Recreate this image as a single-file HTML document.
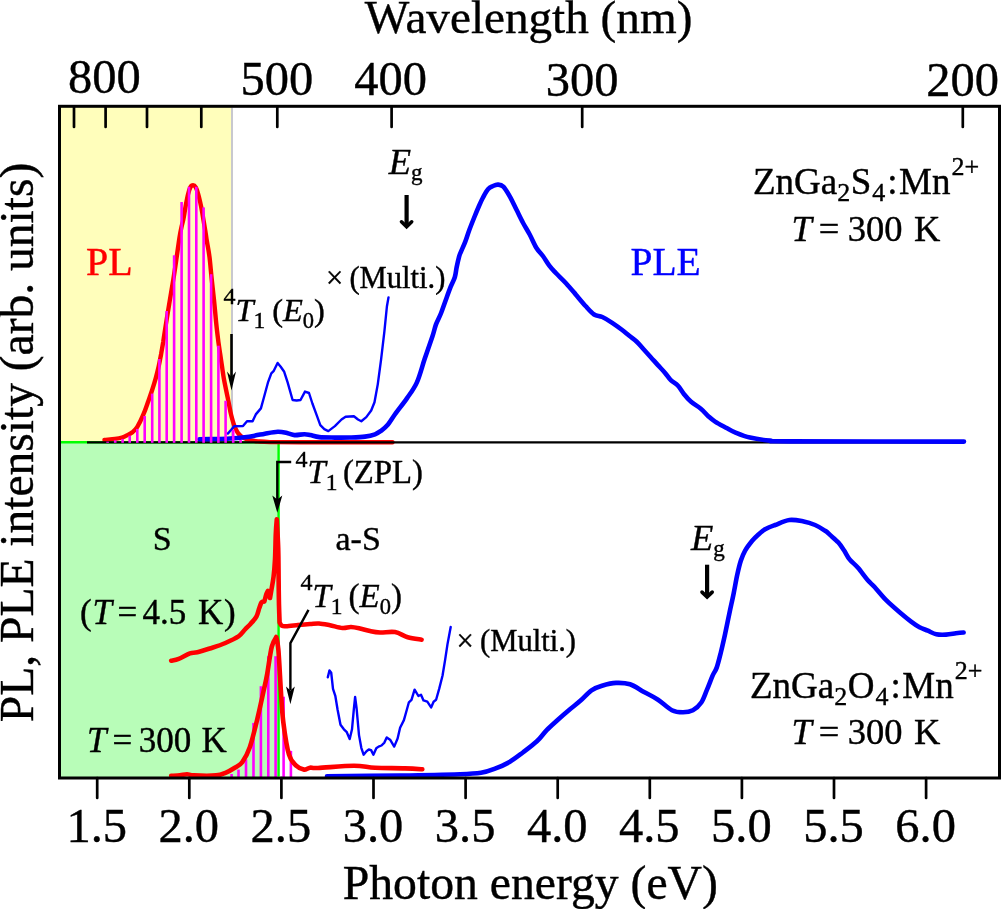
<!DOCTYPE html><html><head><meta charset="utf-8"><title>PL PLE spectra</title><style>html,body{margin:0;padding:0;background:#fff;overflow:hidden;}svg{display:block;}text{font-family:"Liberation Serif","Times New Roman",serif;fill:#000;stroke:#000;stroke-width:0.4px;}.i{font-style:italic;}</style></head><body>
<svg width="1001" height="909" viewBox="0 0 1001 909">
<rect x="60" y="106" width="172" height="336" fill="#FFFEBB"/>
<line x1="232" y1="107.5" x2="232" y2="441" stroke="#C8C8CE" stroke-width="2"/>
<rect x="60" y="442" width="219" height="335" fill="#B8FDB8"/>
<line x1="278.6" y1="442" x2="278.6" y2="776.5" stroke="#00FF00" stroke-width="2.4"/>
<line x1="60" y1="442.2" x2="278" y2="442.2" stroke="#00FF00" stroke-width="2.5"/>
<path d="M104.5,439.9 C106.2,439.7 112.1,439.3 115.0,438.9 C117.9,438.5 120.0,438.1 122.0,437.5 C124.0,436.9 125.3,436.2 127.0,435.3 C128.7,434.4 130.7,433.6 132.4,432.2 C134.1,430.8 135.5,429.8 137.3,426.9 C139.1,424.0 141.6,418.8 143.3,414.7 C145.1,410.6 146.4,406.6 147.8,402.6 C149.2,398.6 150.7,394.5 152.0,390.5 C153.3,386.5 154.6,382.4 155.7,378.4 C156.8,374.4 157.8,370.3 158.7,366.3 C159.6,362.3 160.3,358.2 161.1,354.2 C161.8,350.2 162.5,346.1 163.2,342.1 C163.8,338.1 164.4,333.7 165.0,330.0 C165.6,326.3 165.8,324.8 166.6,320.0 C167.4,315.2 168.6,307.8 169.7,301.0 C170.8,294.2 172.2,286.3 173.4,279.0 C174.6,271.7 175.7,263.8 176.7,257.0 C177.7,250.2 178.6,243.0 179.4,238.0 C180.2,233.0 180.8,230.1 181.5,227.0 C182.2,223.9 182.6,223.0 183.3,219.6 C184.0,216.2 184.8,210.6 185.6,206.4 C186.4,202.2 187.2,197.7 188.0,194.5 C188.8,191.3 189.5,188.9 190.3,187.4 C191.1,185.9 192.1,185.3 193.1,185.3 C194.0,185.3 194.9,185.9 195.8,187.4 C196.7,188.9 197.4,191.3 198.3,194.5 C199.2,197.7 200.2,202.2 201.1,206.4 C201.9,210.6 202.7,215.2 203.4,219.6 C204.2,224.0 205.0,229.1 205.6,232.8 C206.2,236.5 206.3,238.0 207.0,242.0 C207.7,246.0 208.7,250.8 209.5,257.0 C210.3,263.2 210.9,271.7 211.7,279.0 C212.5,286.3 213.3,293.5 214.1,301.0 C214.9,308.5 215.6,317.1 216.3,324.0 C217.0,330.9 217.8,337.1 218.4,342.1 C219.1,347.1 219.6,350.2 220.2,354.2 C220.8,358.2 221.4,362.3 222.0,366.3 C222.6,370.3 223.1,374.4 223.8,378.4 C224.5,382.4 225.4,386.5 226.2,390.5 C227.0,394.5 227.9,398.6 228.7,402.6 C229.5,406.6 230.1,410.8 231.1,414.7 C232.1,418.6 233.3,423.0 234.4,426.0 C235.5,429.0 236.5,430.8 237.6,432.5 C238.7,434.2 239.8,435.2 241.0,436.2 C242.2,437.2 243.5,437.9 245.0,438.6 C246.5,439.3 247.8,439.7 250.0,440.2 C252.2,440.7 254.7,441.1 258.0,441.4 C261.3,441.7 263.0,442.0 270.0,442.1 C277.0,442.2 279.6,442.2 300.0,442.2 C320.4,442.2 377.1,442.2 392.5,442.2" fill="none" stroke="#FF0000" stroke-width="4.4" stroke-linejoin="round" stroke-linecap="round"/>
<line x1="87" y1="442.4" x2="964" y2="442.4" stroke="#000" stroke-width="2.2"/>
<path d="M199.4,439.2 C202.0,439.2 209.9,439.1 215.0,439.0 C220.1,438.9 225.1,438.8 230.0,438.5 C234.9,438.2 240.4,437.7 244.6,437.2 C248.8,436.7 251.6,436.2 255.0,435.6 C258.4,435.0 261.1,434.4 264.9,433.7 C268.7,433.0 274.0,431.8 277.8,431.7 C281.6,431.6 284.9,432.6 287.7,433.2 C290.5,433.8 291.8,434.9 294.6,435.1 C297.4,435.3 301.9,434.2 304.5,434.2 C307.1,434.2 307.9,434.6 310.4,435.1 C312.9,435.6 315.3,436.7 319.4,437.1 C323.5,437.5 329.9,437.5 335.0,437.6 C340.1,437.7 344.8,437.7 349.8,437.5 C354.8,437.3 360.8,437.1 365.0,436.6 C369.2,436.1 372.3,435.3 375.0,434.3 C377.7,433.3 378.9,432.4 381.1,430.8 C383.3,429.2 385.7,427.2 388.0,424.5 C390.3,421.8 391.9,418.7 395.0,414.3 C398.1,409.9 403.3,403.7 406.9,398.4 C410.5,393.1 413.8,389.2 416.8,382.6 C419.8,376.0 422.1,366.5 424.7,358.8 C427.3,351.1 430.5,342.2 432.4,336.5 C434.3,330.8 434.6,328.2 436.0,324.4 C437.4,320.6 439.3,317.5 440.9,313.5 C442.5,309.5 444.1,304.6 445.7,300.2 C447.3,295.8 449.1,290.7 450.6,286.9 C452.1,283.1 453.8,280.4 454.8,277.2 C455.8,274.0 455.9,270.9 456.6,267.5 C457.3,264.1 458.4,259.2 459.1,256.6 C459.8,254.0 459.9,254.2 460.9,251.8 C461.9,249.4 463.7,245.7 465.1,242.1 C466.5,238.5 467.8,234.0 469.3,230.0 C470.8,226.0 472.4,222.0 474.0,218.0 C475.6,214.0 477.5,209.4 479.0,206.0 C480.5,202.6 481.5,200.3 483.0,197.5 C484.5,194.7 486.3,191.1 488.0,189.2 C489.7,187.3 491.3,186.8 493.0,186.0 C494.7,185.2 496.3,184.5 498.0,184.6 C499.7,184.7 501.3,184.7 503.3,186.7 C505.3,188.7 507.7,192.8 509.9,196.6 C512.1,200.4 514.3,205.4 516.5,209.8 C518.7,214.2 520.9,218.9 523.1,223.0 C525.3,227.1 527.5,230.4 529.7,234.5 C531.9,238.6 534.1,244.1 536.3,247.7 C538.5,251.3 540.7,253.0 542.9,256.0 C545.1,259.0 547.3,263.0 549.5,265.9 C551.7,268.8 553.4,270.4 556.1,273.3 C558.9,276.2 562.7,279.6 566.0,283.2 C569.3,286.8 572.6,290.8 575.9,294.7 C579.2,298.6 582.8,303.0 585.8,306.3 C588.8,309.6 591.4,312.7 594.1,314.5 C596.9,316.3 599.3,315.6 602.3,317.0 C605.3,318.4 608.9,320.6 612.2,322.8 C615.5,325.0 619.4,327.8 622.2,330.0 C625.1,332.2 626.9,333.9 629.3,335.8 C631.7,337.7 634.1,339.2 636.5,341.5 C638.9,343.8 641.2,346.7 643.6,349.3 C646.0,351.9 648.4,354.6 650.8,357.2 C653.2,359.8 655.5,362.5 657.9,365.1 C660.3,367.7 663.0,370.4 665.1,372.9 C667.2,375.4 668.6,378.0 670.8,380.1 C672.9,382.2 675.9,383.5 678.0,385.8 C680.1,388.1 681.6,391.1 683.7,393.7 C685.8,396.3 687.9,399.1 690.8,401.6 C693.6,404.1 697.9,406.3 700.8,408.7 C703.7,411.1 705.6,413.8 708.0,415.9 C710.4,418.0 712.0,419.6 715.1,421.6 C718.2,423.6 723.3,426.2 726.6,428.0 C729.9,429.8 731.1,430.7 735.0,432.3 C738.9,433.9 744.2,436.2 750.0,437.6 C755.8,439.0 763.3,440.0 770.0,440.6 C776.7,441.2 757.7,441.2 790.0,441.4 C822.3,441.6 935.0,441.6 964.0,441.6" fill="none" stroke="#0000FF" stroke-width="4.6" stroke-linejoin="round" stroke-linecap="round"/>
<path d="M227.8,433.6 L231.0,430.0 L234.2,426.2 L243.0,426.0 L247.0,421.2 L252.6,421.2 L255.8,414.4 L260.9,408.4 L263.9,397.5 L267.9,382.7 L271.3,373.3 L273.8,370.8 L277.6,362.9 L280.7,366.8 L284.2,371.8 L287.7,382.7 L292.6,400.0 L296.6,400.5 L300.5,400.0 L305.0,391.6 L309.0,393.0 L312.4,403.5 L316.4,414.4 L320.3,425.2 L324.3,429.2 L328.3,431.1 L334.9,426.1 L341.5,419.5 L345.6,416.7 L353.9,416.2 L358.0,419.5 L361.3,421.2 L366.3,417.1 L371.2,410.5 L374.5,402.2 L377.8,384.1 L381.1,359.3 L384.4,331.3 L386.9,306.5 L388.5,297.4" fill="none" stroke="#0000FF" stroke-width="2.4" stroke-linejoin="round" stroke-linecap="round"/>
<line x1="107.6" y1="442.8" x2="107.6" y2="441.7" stroke="#FF00FF" stroke-width="2.6"/>
<line x1="115.2" y1="442.8" x2="115.2" y2="440.3" stroke="#FF00FF" stroke-width="2.6"/>
<line x1="122.6" y1="442.8" x2="122.6" y2="438.9" stroke="#FF00FF" stroke-width="2.6"/>
<line x1="129.7" y1="442.8" x2="129.7" y2="435.7" stroke="#FF00FF" stroke-width="2.6"/>
<line x1="137.3" y1="442.8" x2="137.3" y2="428.9" stroke="#FF00FF" stroke-width="2.6"/>
<line x1="144.7" y1="442.8" x2="144.7" y2="416.0" stroke="#FF00FF" stroke-width="2.6"/>
<line x1="152.2" y1="442.8" x2="152.2" y2="393.6" stroke="#FF00FF" stroke-width="2.6"/>
<line x1="159.4" y1="442.8" x2="159.4" y2="359.0" stroke="#FF00FF" stroke-width="2.6"/>
<line x1="166.7" y1="442.8" x2="166.7" y2="311.0" stroke="#FF00FF" stroke-width="2.6"/>
<line x1="174.1" y1="442.8" x2="174.1" y2="255.3" stroke="#FF00FF" stroke-width="2.6"/>
<line x1="181.6" y1="442.8" x2="181.6" y2="202.0" stroke="#FF00FF" stroke-width="2.6"/>
<line x1="189.0" y1="442.8" x2="189.0" y2="186.8" stroke="#FF00FF" stroke-width="2.6"/>
<line x1="196.3" y1="442.8" x2="196.3" y2="186.8" stroke="#FF00FF" stroke-width="2.6"/>
<line x1="203.6" y1="442.8" x2="203.6" y2="207.4" stroke="#FF00FF" stroke-width="2.6"/>
<line x1="211.1" y1="442.8" x2="211.1" y2="274.2" stroke="#FF00FF" stroke-width="2.6"/>
<line x1="218.4" y1="442.8" x2="218.4" y2="345.7" stroke="#FF00FF" stroke-width="2.6"/>
<line x1="225.6" y1="442.8" x2="225.6" y2="400.7" stroke="#FF00FF" stroke-width="2.6"/>
<line x1="233.2" y1="442.8" x2="233.2" y2="430.0" stroke="#FF00FF" stroke-width="2.6"/>
<line x1="240.6" y1="442.8" x2="240.6" y2="440.0" stroke="#FF00FF" stroke-width="2.6"/>
<line x1="231.6" y1="777" x2="231.6" y2="774.0" stroke="#FF00FF" stroke-width="2.6"/>
<line x1="238.5" y1="777" x2="238.5" y2="769.6" stroke="#FF00FF" stroke-width="2.6"/>
<line x1="246.0" y1="777" x2="246.0" y2="759.3" stroke="#FF00FF" stroke-width="2.6"/>
<line x1="253.5" y1="777" x2="253.5" y2="722.9" stroke="#FF00FF" stroke-width="2.6"/>
<line x1="260.9" y1="777" x2="260.9" y2="686.2" stroke="#FF00FF" stroke-width="2.6"/>
<line x1="268.3" y1="777" x2="268.3" y2="656.2" stroke="#FF00FF" stroke-width="2.6"/>
<line x1="275.6" y1="777" x2="275.6" y2="656.2" stroke="#FF00FF" stroke-width="2.6"/>
<line x1="283.6" y1="777" x2="283.6" y2="696.7" stroke="#FF00FF" stroke-width="2.6"/>
<line x1="290.9" y1="777" x2="290.9" y2="750.9" stroke="#FF00FF" stroke-width="2.6"/>
<path d="M327.0,776.2 C339.2,776.1 377.8,775.8 400.0,775.5 C422.2,775.2 446.5,774.7 460.0,774.2 C473.5,773.8 475.2,773.7 481.0,772.8 C486.8,771.9 490.3,770.4 495.0,768.6 C499.7,766.9 504.4,765.0 509.0,762.3 C513.6,759.6 518.2,756.0 522.9,752.5 C527.5,749.0 532.9,745.0 536.9,741.3 C540.9,737.6 543.2,733.7 546.7,730.1 C550.2,726.5 554.2,723.1 557.9,719.7 C561.6,716.3 565.4,713.0 569.1,709.9 C572.8,706.8 576.6,704.1 580.3,700.8 C584.0,697.5 587.9,692.8 591.5,690.3 C595.1,687.8 597.9,686.9 602.0,685.7 C606.1,684.5 611.3,683.1 616.0,682.9 C620.7,682.7 625.3,682.8 630.0,684.3 C634.7,685.8 639.3,689.4 644.0,692.0 C648.7,694.6 653.4,696.7 658.0,699.7 C662.6,702.7 667.7,708.1 671.9,710.2 C676.1,712.3 679.6,712.3 683.1,712.3 C686.6,712.3 689.9,711.8 692.9,710.2 C695.9,708.6 699.0,705.9 701.3,702.5 C703.6,699.1 705.0,694.3 706.9,689.9 C708.8,685.5 710.9,679.6 712.5,675.9 C714.1,672.2 715.3,671.5 716.7,667.6 C718.1,663.7 719.5,657.8 720.9,652.2 C722.3,646.6 723.7,640.4 725.1,634.0 C726.5,627.6 727.9,620.4 729.3,613.7 C730.7,607.0 732.3,600.1 733.6,593.7 C734.9,587.3 736.0,580.6 737.2,575.1 C738.4,569.6 739.5,564.8 740.8,560.8 C742.1,556.8 743.1,554.1 745.0,550.8 C746.9,547.5 750.1,543.4 752.2,540.8 C754.4,538.2 755.8,536.9 757.9,535.0 C760.0,533.1 762.2,531.0 765.1,529.3 C768.0,527.6 771.1,526.5 775.1,525.0 C779.1,523.5 784.6,520.6 789.4,520.0 C794.2,519.4 799.4,520.7 803.7,521.5 C808.0,522.3 811.5,523.5 815.1,525.0 C818.7,526.5 822.7,529.1 825.2,530.8 C827.7,532.4 827.8,532.9 830.0,534.9 C832.2,536.9 836.1,540.0 838.4,542.6 C840.7,545.2 842.1,547.5 844.0,550.3 C845.9,553.1 847.3,556.5 849.6,559.4 C851.9,562.3 855.0,564.3 858.0,567.8 C861.0,571.3 865.0,577.0 867.8,580.3 C870.6,583.5 871.8,584.0 874.8,587.3 C877.8,590.6 881.7,595.7 885.9,599.9 C890.1,604.1 895.7,608.9 899.9,612.5 C904.1,616.1 907.8,619.1 911.1,621.6 C914.4,624.1 916.7,625.7 919.5,627.2 C922.3,628.7 925.1,629.5 927.9,630.7 C930.7,631.9 933.3,633.6 936.3,634.2 C939.3,634.9 942.8,634.8 946.1,634.6 C949.4,634.4 953.0,633.6 955.9,633.2 C958.8,632.9 962.3,632.6 963.6,632.5" fill="none" stroke="#0000FF" stroke-width="4.6" stroke-linejoin="round" stroke-linecap="round"/>
<path d="M327.8,677.3 L329.5,670.4 L331.2,672.7 L333.0,688.9 L335.3,695.8 L337.6,709.7 L340.5,724.7 L343.9,729.3 L346.8,732.2 L349.7,739.1 L352.0,729.3 L353.8,709.7 L355.1,697.0 L356.6,708.5 L359.0,735.1 L361.3,747.8 L363.6,754.7 L366.5,751.2 L368.8,749.5 L371.1,750.1 L373.4,754.7 L376.3,748.3 L378.6,746.6 L381.5,745.5 L384.4,742.6 L386.7,737.4 L390.1,739.7 L394.2,746.6 L397.6,738.5 L400.1,727.7 L403.9,720.1 L406.4,711.2 L408.9,702.3 L411.5,699.8 L414.6,689.7 L418.4,696.0 L421.0,694.7 L423.5,700.4 L427.3,701.7 L431.1,707.4 L433.6,701.7 L436.1,699.8 L439.3,688.4 L442.5,675.8 L445.0,660.6 L447.5,644.1 L450.7,627.0" fill="none" stroke="#0000FF" stroke-width="2.4" stroke-linejoin="round" stroke-linecap="round"/>
<path d="M171.2,660.7 C172.4,660.4 175.6,660.1 178.7,658.9 C181.8,657.7 186.8,654.4 189.9,653.3 C193.0,652.2 193.7,653.2 197.4,652.3 C201.1,651.4 207.6,649.2 212.3,647.7 C217.0,646.2 221.0,644.9 225.4,643.0 C229.8,641.1 235.2,638.6 238.5,636.4 C241.8,634.1 243.0,631.6 245.0,629.5 C247.0,627.4 248.8,625.9 250.7,623.7 C252.6,621.6 255.0,619.2 256.4,616.6 C257.8,614.0 258.4,610.4 259.3,608.0 C260.2,605.6 260.7,603.4 261.5,602.3 C262.3,601.2 263.8,601.7 264.3,601.6 C264.7,600.3 265.9,595.5 266.5,593.7 C267.1,591.9 267.7,591.3 267.9,590.8 L270.0,598.0 L271.5,589.4 C271.9,587.2 273.0,581.5 273.6,576.5 C274.2,571.5 274.6,566.5 275.0,559.4 C275.4,552.2 275.5,540.3 275.8,533.6 C276.1,526.9 276.6,521.7 276.8,519.3 C277.0,524.1 277.9,538.4 278.2,547.9 C278.5,557.4 278.5,567.0 278.6,576.5 C278.7,586.0 278.8,597.4 279.0,605.1 C279.2,612.8 279.5,619.6 279.6,622.5 C280.0,623.0 280.9,625.2 282.0,625.8 C283.1,626.4 283.3,626.3 286.0,626.2 C288.7,626.1 294.0,625.4 298.0,625.0 C302.0,624.6 306.5,624.2 310.0,624.0 C313.5,623.8 315.7,623.3 319.0,623.5 C322.3,623.7 326.1,624.5 330.0,625.2 C333.9,626.0 339.0,627.7 342.5,628.0 C346.0,628.3 348.1,626.9 351.0,627.0 C353.9,627.1 356.8,627.8 360.0,628.5 C363.2,629.2 366.7,630.3 370.0,631.0 C373.3,631.7 375.8,632.3 380.0,632.5 C384.2,632.7 390.4,631.3 395.0,632.1 C399.6,632.9 403.3,635.9 407.7,637.2 C412.1,638.5 419.3,639.3 421.6,639.7" fill="none" stroke="#FF0000" stroke-width="4.6" stroke-linejoin="round" stroke-linecap="round"/>
<path d="M171.2,775.8 C172.7,775.7 177.4,775.6 180.0,775.3 C182.6,775.0 184.7,774.2 187.0,774.2 C189.3,774.2 189.2,775.2 194.0,775.4 C198.8,775.6 210.8,775.8 216.1,775.4 C221.3,775.0 222.4,774.1 225.5,772.8 C228.6,771.5 232.0,769.5 234.8,767.7 C237.6,765.9 239.8,765.5 242.3,762.1 C244.8,758.7 247.3,754.4 249.8,747.2 C252.3,740.0 255.1,728.2 257.3,719.1 C259.5,710.0 261.6,700.1 263.2,692.8 C264.8,685.4 265.6,682.7 267.0,675.0 C268.4,667.3 270.2,652.9 271.8,646.6 C273.4,640.3 275.6,638.6 276.3,637.0 C276.6,639.2 277.6,640.7 278.4,650.0 C279.2,659.3 280.2,680.6 281.0,692.8 C281.8,704.9 282.1,712.6 283.4,722.9 C284.7,733.2 286.8,747.5 289.0,754.7 C291.2,761.9 294.0,763.4 296.5,765.9 C299.0,768.4 301.8,769.3 304.0,769.6 C306.2,769.9 307.7,768.0 310.0,767.7 C312.3,767.4 310.7,768.3 318.0,768.0 C325.3,767.7 344.5,765.7 354.0,765.7 C363.5,765.7 366.5,767.3 375.0,767.8 C383.5,768.2 397.1,768.1 405.0,768.4 C412.9,768.6 419.4,769.1 422.3,769.3" fill="none" stroke="#FF0000" stroke-width="4.6" stroke-linejoin="round" stroke-linecap="round"/>
<rect x="59.5" y="106.3" width="940" height="671.7" fill="none" stroke="#000" stroke-width="3"/>
<line x1="74.0" y1="107" x2="74.0" y2="127" stroke="#000" stroke-width="2.7" stroke-linecap="round"/>
<line x1="105.6" y1="107" x2="105.6" y2="127" stroke="#000" stroke-width="2.7" stroke-linecap="round"/>
<line x1="147.0" y1="107" x2="147.0" y2="127" stroke="#000" stroke-width="2.7" stroke-linecap="round"/>
<line x1="201.3" y1="107" x2="201.3" y2="127" stroke="#000" stroke-width="2.7" stroke-linecap="round"/>
<line x1="277.3" y1="107" x2="277.3" y2="127" stroke="#000" stroke-width="2.7" stroke-linecap="round"/>
<line x1="391.6" y1="107" x2="391.6" y2="127" stroke="#000" stroke-width="2.7" stroke-linecap="round"/>
<line x1="582.2" y1="107" x2="582.2" y2="127" stroke="#000" stroke-width="2.7" stroke-linecap="round"/>
<line x1="962.8" y1="107" x2="962.8" y2="127" stroke="#000" stroke-width="2.7" stroke-linecap="round"/>
<line x1="97.2" y1="778" x2="97.2" y2="798" stroke="#000" stroke-width="2.7" stroke-linecap="round"/>
<line x1="189.3" y1="778" x2="189.3" y2="798" stroke="#000" stroke-width="2.7" stroke-linecap="round"/>
<line x1="281.4" y1="778" x2="281.4" y2="798" stroke="#000" stroke-width="2.7" stroke-linecap="round"/>
<line x1="373.5" y1="778" x2="373.5" y2="798" stroke="#000" stroke-width="2.7" stroke-linecap="round"/>
<line x1="465.6" y1="778" x2="465.6" y2="798" stroke="#000" stroke-width="2.7" stroke-linecap="round"/>
<line x1="557.7" y1="778" x2="557.7" y2="798" stroke="#000" stroke-width="2.7" stroke-linecap="round"/>
<line x1="649.8" y1="778" x2="649.8" y2="798" stroke="#000" stroke-width="2.7" stroke-linecap="round"/>
<line x1="741.9" y1="778" x2="741.9" y2="798" stroke="#000" stroke-width="2.7" stroke-linecap="round"/>
<line x1="834.0" y1="778" x2="834.0" y2="798" stroke="#000" stroke-width="2.7" stroke-linecap="round"/>
<line x1="926.1" y1="778" x2="926.1" y2="798" stroke="#000" stroke-width="2.7" stroke-linecap="round"/>
<line x1="406.6" y1="195.0" x2="406.6" y2="225.6" stroke="#000" stroke-width="4.2"/>
<polyline points="401.5,221.8 406.6,226.8 411.7,221.8" fill="none" stroke="#000" stroke-width="3.6" stroke-linejoin="miter" stroke-miterlimit="10" stroke-linecap="round"/>
<line x1="707.1" y1="564.7" x2="707.1" y2="595.9" stroke="#000" stroke-width="4.2"/>
<polyline points="702.0,592.1 707.1,597.1 712.2,592.1" fill="none" stroke="#000" stroke-width="3.6" stroke-linejoin="miter" stroke-miterlimit="10" stroke-linecap="round"/>
<line x1="231.5" y1="334.0" x2="231.5" y2="379.0" stroke="#000" stroke-width="2.6"/>
<path d="M231.5,390.4 L227.0,371.4 L231.5,377.1 L236.0,371.4 Z" fill="#000"/>
<path d="M291.2,462 L277.3,462 L277.3,500" fill="none" stroke="#000" stroke-width="2.4"/>
<path d="M277.3,512.8 L272.3,495.5 L277.3,499.5 L282.3,495.5 Z" fill="#000"/>
<path d="M308.5,609.9 L290.4,643.1 L290.4,690" fill="none" stroke="#000" stroke-width="2.4"/>
<path d="M290.4,704.3 L286,686.5 L290.4,690.5 L294.8,686.5 Z" fill="#000"/>
<text x="96.7" y="841.6" font-size="48.5" text-anchor="middle">1.5</text>
<text x="188.8" y="841.6" font-size="48.5" text-anchor="middle">2.0</text>
<text x="280.9" y="841.6" font-size="48.5" text-anchor="middle">2.5</text>
<text x="373.0" y="841.6" font-size="48.5" text-anchor="middle">3.0</text>
<text x="465.1" y="841.6" font-size="48.5" text-anchor="middle">3.5</text>
<text x="557.2" y="841.6" font-size="48.5" text-anchor="middle">4.0</text>
<text x="649.3" y="841.6" font-size="48.5" text-anchor="middle">4.5</text>
<text x="741.4" y="841.6" font-size="48.5" text-anchor="middle">5.0</text>
<text x="833.5" y="841.6" font-size="48.5" text-anchor="middle">5.5</text>
<text x="925.6" y="841.6" font-size="48.5" text-anchor="middle">6.0</text>
<text x="104.4" y="93.4" font-size="48.5" text-anchor="middle">800</text>
<text x="276.8" y="95.3" font-size="48.5" text-anchor="middle">500</text>
<text x="390.6" y="95.3" font-size="48.5" text-anchor="middle">400</text>
<text x="582.0" y="95.6" font-size="48.5" text-anchor="middle">300</text>
<text x="962.5" y="95.5" font-size="48.5" text-anchor="middle">200</text>
<text x="528.5" y="33.3" font-size="47.2" text-anchor="middle">Wavelength (nm)</text>
<text x="530.3" y="898.9" font-size="47.7" text-anchor="middle">Photon energy (eV)</text>
<text transform="translate(33,442.5) rotate(-90)" font-size="47.5" text-anchor="middle">PL, PLE intensity (arb. units)</text>
<text x="86.0" y="274.9" font-size="40.0" style="fill:#FF0000;stroke:#FF0000">PL</text>
<text x="630.5" y="274.6" font-size="39.5" style="fill:#0000FF;stroke:#0000FF">PLE</text>
<text x="388.8" y="174.0" font-size="36.5"><tspan class="i">E</tspan><tspan font-size="23" dy="6">g</tspan></text>
<text x="691.0" y="550.0" font-size="36.5"><tspan class="i">E</tspan><tspan font-size="23" dy="6">g</tspan></text>
<text x="326.0" y="287.9" font-size="30.6">×<tspan dx="-1.5"> (Multi.)</tspan></text>
<text x="456.6" y="650.5" font-size="30.6">×<tspan dx="-1.5"> (Multi.)</tspan></text>
<text x="223.5" y="320.7" font-size="32.5"><tspan font-size="24" dy="-16.4">4</tspan><tspan class="i" dy="16.4">T</tspan><tspan font-size="23.5" dy="7">1</tspan><tspan dy="-7" dx="-1.3"> (</tspan><tspan class="i">E</tspan><tspan font-size="22.5" dy="7">0</tspan><tspan dy="-7">)</tspan></text>
<text x="295.5" y="483.0" font-size="32.8"><tspan font-size="24" dy="-16.4">4</tspan><tspan class="i" dy="16.4">T</tspan><tspan font-size="23.5" dy="7">1</tspan><tspan dy="-7" dx="-2.8"> (</tspan>ZPL)</text>
<text x="300.5" y="606.8" font-size="33.0"><tspan font-size="24" dy="-16.4">4</tspan><tspan class="i" dy="16.4">T</tspan><tspan font-size="23.5" dy="7">1</tspan><tspan dy="-7" dx="-2.3"> (</tspan><tspan class="i">E</tspan><tspan font-size="22.5" dy="7">0</tspan><tspan dy="-7">)</tspan></text>
<text x="152.8" y="550.0" font-size="34.0">S</text>
<text x="335.5" y="549.6" font-size="34.0">a-S</text>
<text x="80.1" y="623.8" font-size="35.0">(<tspan class="i" x="92.4">T</tspan><tspan x="117.5">=</tspan><tspan x="142.5">4.5</tspan><tspan x="198">K</tspan><tspan x="224">)</tspan></text>
<text x="87.0" y="751.7" font-size="35.0"><tspan class="i">T</tspan><tspan x="112.5">=</tspan><tspan x="138.75">300</tspan><tspan x="201.4">K</tspan></text>
<text x="753.0" y="194.2" font-size="37.0">ZnGa<tspan font-size="26" dy="7">2</tspan><tspan dy="-7" dx="0.5">S</tspan><tspan font-size="26" dy="7" dx="1">4</tspan><tspan dy="-7" dx="2">:</tspan><tspan dx="1.5">Mn</tspan><tspan font-size="26" dy="-19" dx="1">2+</tspan></text>
<text x="750.0" y="697.8" font-size="37.0">ZnGa<tspan font-size="26" dy="7">2</tspan><tspan dy="-7" dx="0.5">O</tspan><tspan font-size="26" dy="7" dx="1">4</tspan><tspan dy="-7" dx="2">:</tspan><tspan dx="1.5">Mn</tspan><tspan font-size="26" dy="-19" dx="1">2+</tspan></text>
<text x="791.5" y="240.8" font-size="36.5"><tspan class="i">T</tspan><tspan x="818.8">=</tspan><tspan x="847.7">300</tspan><tspan x="914.1">K</tspan></text>
<text x="791.5" y="743.9" font-size="36.5"><tspan class="i">T</tspan><tspan x="818.8">=</tspan><tspan x="847.7">300</tspan><tspan x="914.1">K</tspan></text>
</svg></body></html>
